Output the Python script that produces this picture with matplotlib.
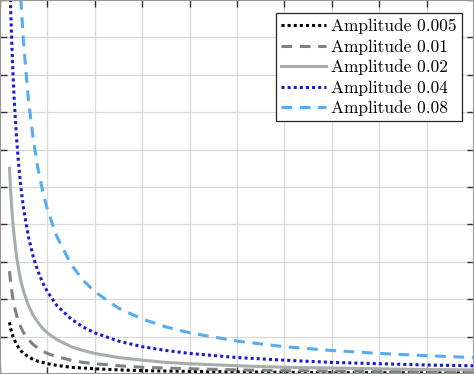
import matplotlib
matplotlib.use("Agg")
import matplotlib.pyplot as plt

plt.rcParams['font.family'] = ['cmr10', 'DejaVu Serif']
plt.rcParams['axes.unicode_minus'] = False

# values (x from the left edge, y from the bottom edge, grid units)
x = [0.2, 0.225, 0.25, 0.275, 0.3, 0.35, 0.4, 0.45, 0.5, 0.6, 0.7, 0.8, 0.9, 1.0,
     1.2, 1.5, 1.75, 2, 2.5, 3, 3.5, 4, 5, 6, 7, 8, 9, 10]
amp_0005 = [1.38, 1.22, 1.1, 1.0, 0.92, 0.79, 0.69, 0.61, 0.55, 0.46, 0.39, 0.34, 0.31, 0.275,
            0.23, 0.18, 0.16, 0.14, 0.11, 0.09, 0.08, 0.07, 0.055, 0.046, 0.039, 0.034, 0.031, 0.028]
amp_001 = [2.75, 2.44, 2.2, 2.0, 1.83, 1.57, 1.38, 1.22, 1.1, 0.92, 0.79, 0.69, 0.61, 0.55,
           0.46, 0.37, 0.31, 0.275, 0.22, 0.18, 0.16, 0.14, 0.11, 0.09, 0.08, 0.07, 0.06, 0.055]
amp_002 = [5.5, 4.89, 4.4, 4.0, 3.67, 3.14, 2.75, 2.44, 2.2, 1.83, 1.57, 1.38, 1.22, 1.1,
           0.92, 0.73, 0.63, 0.55, 0.44, 0.37, 0.31, 0.275, 0.22, 0.18, 0.16, 0.14, 0.12, 0.11]
amp_004 = [11.0, 9.78, 8.8, 8.0, 7.33, 6.29, 5.5, 4.89, 4.4, 3.67, 3.14, 2.75, 2.44, 2.2,
           1.83, 1.47, 1.26, 1.1, 0.88, 0.73, 0.63, 0.55, 0.44, 0.37, 0.31, 0.275, 0.24, 0.22]
amp_008 = [22.0, 19.6, 17.6, 16.0, 14.7, 12.6, 11.0, 9.78, 8.8, 7.33, 6.29, 5.5, 4.89, 4.4,
           3.67, 2.93, 2.51, 2.2, 1.76, 1.47, 1.26, 1.1, 0.88, 0.73, 0.63, 0.55, 0.49, 0.44]
labels = ['Amplitude 0.005', 'Amplitude 0.01', 'Amplitude 0.02',
          'Amplitude 0.04', 'Amplitude 0.08']

fig = plt.figure(figsize=(4.74, 3.74), dpi=100)
ax = fig.add_axes([0, 0, 1, 1])

ax.plot(x, amp_0005, color='black', lw=2.2, linestyle=(0, (1, 1)), label=labels[0])
ax.plot(x, amp_001, color='#7b8482', lw=2.2, linestyle=(0, (3.5, 2.5)), label=labels[1])
ax.plot(x, amp_002, color='#a6adab', lw=2.2, linestyle='-', label=labels[2])
ax.plot(x, amp_004, color='#1c1ccf', lw=2.2, linestyle=(0, (1, 1)), label=labels[3])
ax.plot(x, amp_008, color='#55acf0', lw=2.2, linestyle=(0, (3.5, 2.5)), label=labels[4])

ax.set_xlim(0, 10)
ax.set_ylim(0, 10)
ax.set_xticks(range(0, 11))
ax.set_yticks(range(0, 11))
ax.grid(True, color='#d9d9d9', lw=0.9)
ax.set_axisbelow(True)
ax.tick_params(direction='in', length=5, width=1, color='0.2',
               top=True, right=True, labelleft=False, labelbottom=False)
for s in ax.spines.values():
    s.set_color('0.6')
    s.set_linewidth(1.5)

leg = ax.legend(loc='upper right', bbox_to_anchor=(0.975, 0.965), borderaxespad=0,
                fontsize=12.5, fancybox=False, framealpha=1, edgecolor='0.15',
                handlelength=2.6, handletextpad=0.3, labelspacing=0.27,
                borderpad=0.3)
leg.get_frame().set_linewidth(0.9)

fig.savefig('out.png', dpi=100)
